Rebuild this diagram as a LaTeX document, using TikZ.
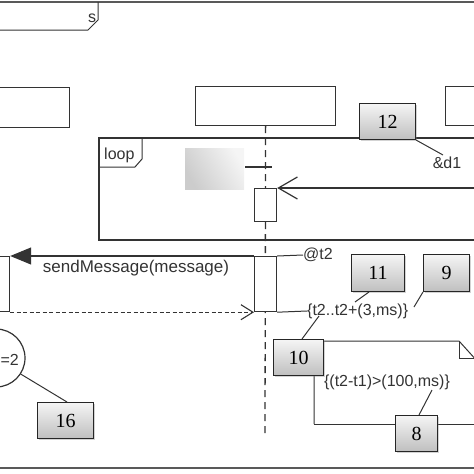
\documentclass[tikz,border=0pt]{standalone}
\usepackage{fontspec}
\setmainfont{Liberation Sans}
\newfontfamily\numfont{Liberation Serif}
\usetikzlibrary{arrows.meta,calc,shadows}
\definecolor{ink}{HTML}{333333}
\begin{document}
\begin{tikzpicture}[x=1pt,y=-1pt,
  ln/.style={draw=ink,line width=1.2pt},
  thin/.style={draw=ink,line width=1pt},
  framel/.style={draw=black!65,line width=1.4pt},
  lifeline/.style={draw=ink,line width=1.3pt,dash pattern=on 7pt off 5pt},
  head/.style={draw=ink,line width=1.2pt,fill=white,anchor=north west,inner sep=0pt},
  act/.style={draw=ink,line width=1.2pt,fill=white,anchor=north west,inner sep=0pt,minimum width=22pt},
  numbox/.style={draw=black!85,line width=1pt,top color=gray!8,bottom color=gray!50,
     minimum height=36pt,inner sep=0pt,anchor=north west,
     font=\numfont\fontsize{20}{20}\selectfont,
     drop shadow={shadow xshift=1.5pt,shadow yshift=-1.5pt,opacity=0.35}},
  lbl/.style={font=\fontsize{16}{16}\selectfont,text=ink,inner sep=0pt}]
\useasboundingbox (0,0) rectangle (474,474);
\clip (0,0) rectangle (474,474);
% outer frame
\draw[framel] (-10,2) rectangle (484,468);
\draw[thin] (-10,30) -- (88,30) -- (98,20) -- (98,2);
\node[lbl,anchor=center] (sdl) at (92,18) {s};
% lifeline heads
\node[head,minimum width=74pt,minimum height=40pt] (h1) at (-5,87) {};
\node[head,minimum width=140pt,minimum height=39pt] (h2) at (195,86) {};
\node[head,minimum width=40pt,minimum height=39pt] (h3) at (445,86) {};
% lifeline
\coordinate (lend) at (265,433);
\draw[lifeline] (h2.south) -- (lend);
% loop fragment
\draw[ln] (480,138) -- (99,138) -- (99,240) -- (480,240);
\draw[thin] (99,167) -- (135,167) -- (142,159) -- (142,138);
\node[lbl,anchor=west] (looplbl) at (104,155) {loop};
\shade[left color=gray!40,right color=gray!8,shading angle=120] (185,148) rectangle (244,189);
\draw[ln] (245,167) -- (272,167);
% activations
\node[act,minimum height=33pt] (a1) at (254,188) {};
\node[act,minimum height=55pt] (a2) at (254,256) {};
\node[act,minimum height=55pt,minimum width=20pt] (la) at (-11,256) {};
% messages
\coordinate (rin) at (480,188);
\draw[ln,-{Straight Barb[length=19pt,width=22pt,line width=1.2pt]}] (rin) -- (a1.north east);
\draw[ln,-{Triangle[length=21pt,width=17pt]}] (a2.north west) -- (la.north east);
\node[lbl,font=\fontsize{17}{17}\selectfont] (sm) at (136,268) {sendMessage(message)};
\draw[ln,dash pattern=on 4pt off 2.5pt,-{Straight Barb[length=12pt,width=15pt,line width=1.1pt]}] (la.south east) -- (a2.south west);
% time labels
\node[lbl,anchor=west] (t2) at (303,255) {@t2};
\draw[thin] (a2.north east) -- (t2.west);
\node[lbl,anchor=west] (tc) at (307,311) {\{t2..t2+(3,ms)\}};
\draw[thin] (a2.south east) -- (tc.west);
% note
\draw[thin] (314,424) -- (314,341) -- (459,341) -- (478,362);
\draw[thin] (459,341) -- (459,358) -- (480,358);
\draw[thin] (314,424) -- (480,424);
\node[lbl] (nc) at (387,382) {\{(t2-t1)>(100,ms)\}};
% duration label
\node[lbl] (d1) at (447,163) {\&d1};
% circle
\node[circle,draw=ink,line width=1.2pt,minimum size=58pt,inner sep=0pt] (c16) at (-4,358) {};
\node[lbl,anchor=east] (eq) at (19,360) {=2};
% numbered boxes
\node[numbox,minimum width=56pt] (n12) at (359,103) {12};
\node[numbox,minimum width=53pt,minimum height=37pt] (n11) at (351,254) {11};
\node[numbox,minimum width=46pt,minimum height=37pt] (n9) at (423,254) {9};
\node[numbox,minimum width=50pt] (n10) at (273,339) {10};
\node[numbox,minimum width=42pt] (n8) at (395,415) {8};
\node[numbox,minimum width=56pt] (n16) at (37,402) {16};
% leaders
\coordinate (p12) at (443,155);
\coordinate (p11) at (355,302);
\coordinate (p9) at (414,307);
\coordinate (p10) at (319,316);
\coordinate (p8) at (432,390);
\draw[thin] (n12.south east) -- (p12);
\draw[thin] ($(n11.south west)+(18,0)$) -- (p11);
\draw[thin] (n9.south west) -- (p9);
\draw[thin] ($(n10.north west)+(29,0)$) -- (p10);
\draw[thin] ($(n8.north west)+(24,0)$) -- (p8);
\draw[thin] ($(n16.north west)+(30,0)$) -- (c16.-33);
\end{tikzpicture}
\end{document}
